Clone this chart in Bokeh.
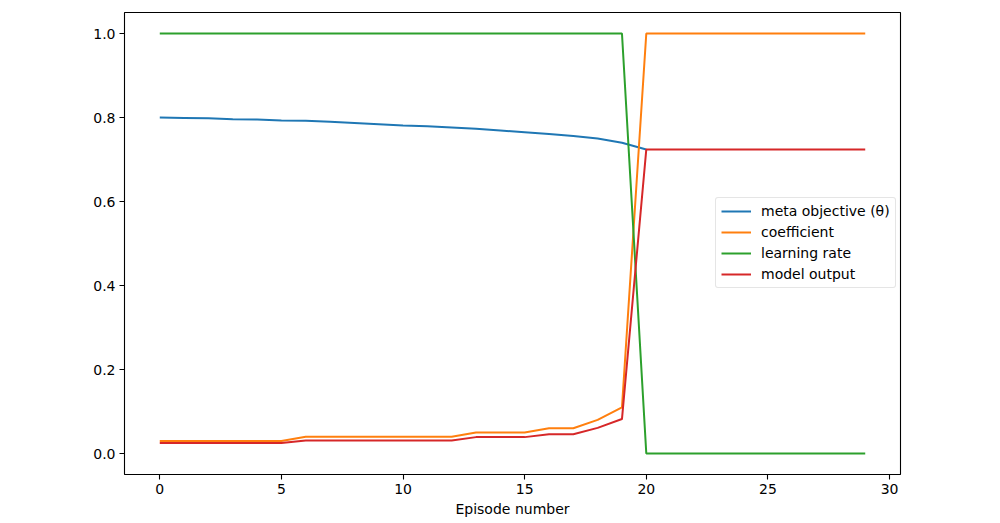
from bokeh.plotting import figure
from bokeh.models import Legend, LegendItem, FixedTicker, PrintfTickFormatter, Range1d
from bokeh.embed import file_html
from bokeh.resources import INLINE

episodes = list(range(30))
meta_objective = [0.800, 0.799, 0.798, 0.796, 0.795, 0.793, 0.792, 0.790, 0.787, 0.784,
                  0.781, 0.779, 0.776, 0.773, 0.769, 0.765, 0.761, 0.756, 0.750, 0.740,
                  0.724]
coefficient = [0.03, 0.03, 0.03, 0.03, 0.03, 0.03, 0.04, 0.04, 0.04, 0.04,
               0.04, 0.04, 0.04, 0.05, 0.05, 0.05, 0.06, 0.06, 0.08, 0.11,
               1.0, 1.0, 1.0, 1.0, 1.0, 1.0, 1.0, 1.0, 1.0, 1.0]
learning_rate = [1.0] * 20 + [0.0] * 10
model_output = [0.025, 0.025, 0.025, 0.025, 0.025, 0.025, 0.031, 0.031, 0.031, 0.031,
                0.031, 0.031, 0.031, 0.039, 0.039, 0.039, 0.046, 0.046, 0.061, 0.082,
                0.724, 0.724, 0.724, 0.724, 0.724, 0.724, 0.724, 0.724, 0.724, 0.724]

series = [
    ("meta objective (θ)", episodes[:len(meta_objective)], meta_objective, "#1f77b4"),
    ("coefficient", episodes, coefficient, "#ff7f0e"),
    ("learning rate", episodes, learning_rate, "#2ca02c"),
    ("model output", episodes, model_output, "#d62728"),
]

FONT = "DejaVu Sans"

p = figure(frame_width=776, frame_height=462,
           min_border_left=124, min_border_right=100,
           min_border_top=12, min_border_bottom=49,
           x_range=Range1d(-1.45, 30.45), y_range=Range1d(-0.05, 1.05),
           output_backend="svg", toolbar_location=None)

items = []
for name, xs, ys, color in series:
    r = p.line(xs, ys, line_color=color, line_width=2)
    items.append(LegendItem(label=name, renderers=[r]))

p.xgrid.visible = False
p.ygrid.visible = False
p.outline_line_color = "black"
p.outline_line_width = 1.1
p.background_fill_color = "white"
p.border_fill_color = "white"

p.xaxis.ticker = FixedTicker(ticks=[0, 5, 10, 15, 20, 25, 30])
p.yaxis.ticker = FixedTicker(ticks=[0.0, 0.2, 0.4, 0.6, 0.8, 1.0])
p.yaxis.formatter = PrintfTickFormatter(format="%.1f")
p.xaxis.axis_label = "Episode number"

for ax in (p.xaxis[0], p.yaxis[0]):
    ax.axis_line_color = None
    ax.major_tick_in = 0
    ax.major_tick_out = 5
    ax.major_tick_line_width = 1.1
    ax.minor_tick_line_color = None
    ax.major_tick_line_color = "black"
    ax.major_label_text_font = FONT
    ax.major_label_text_font_size = "14px"
    ax.major_label_text_color = "black"
    ax.major_label_standoff = 4
    ax.axis_label_text_font = FONT
    ax.axis_label_text_font_size = "14px"
    ax.axis_label_text_font_style = "normal"
    ax.axis_label_text_color = "black"
    ax.axis_label_standoff = 4

legend = Legend(items=items, location=(591, 186))
legend.label_text_font = FONT
legend.label_text_font_size = "14px"
legend.label_text_color = "black"
legend.glyph_width = 30
legend.glyph_height = 16
legend.label_height = 16
legend.label_standoff = 10
legend.spacing = 5
legend.padding = 5
legend.margin = 0
legend.border_line_color = "#cccccc"
legend.border_line_width = 1
legend.border_radius = 3
legend.background_fill_alpha = 0.8
p.add_layout(legend, "center")

open("out.html", "w").write(file_html(p, INLINE))
